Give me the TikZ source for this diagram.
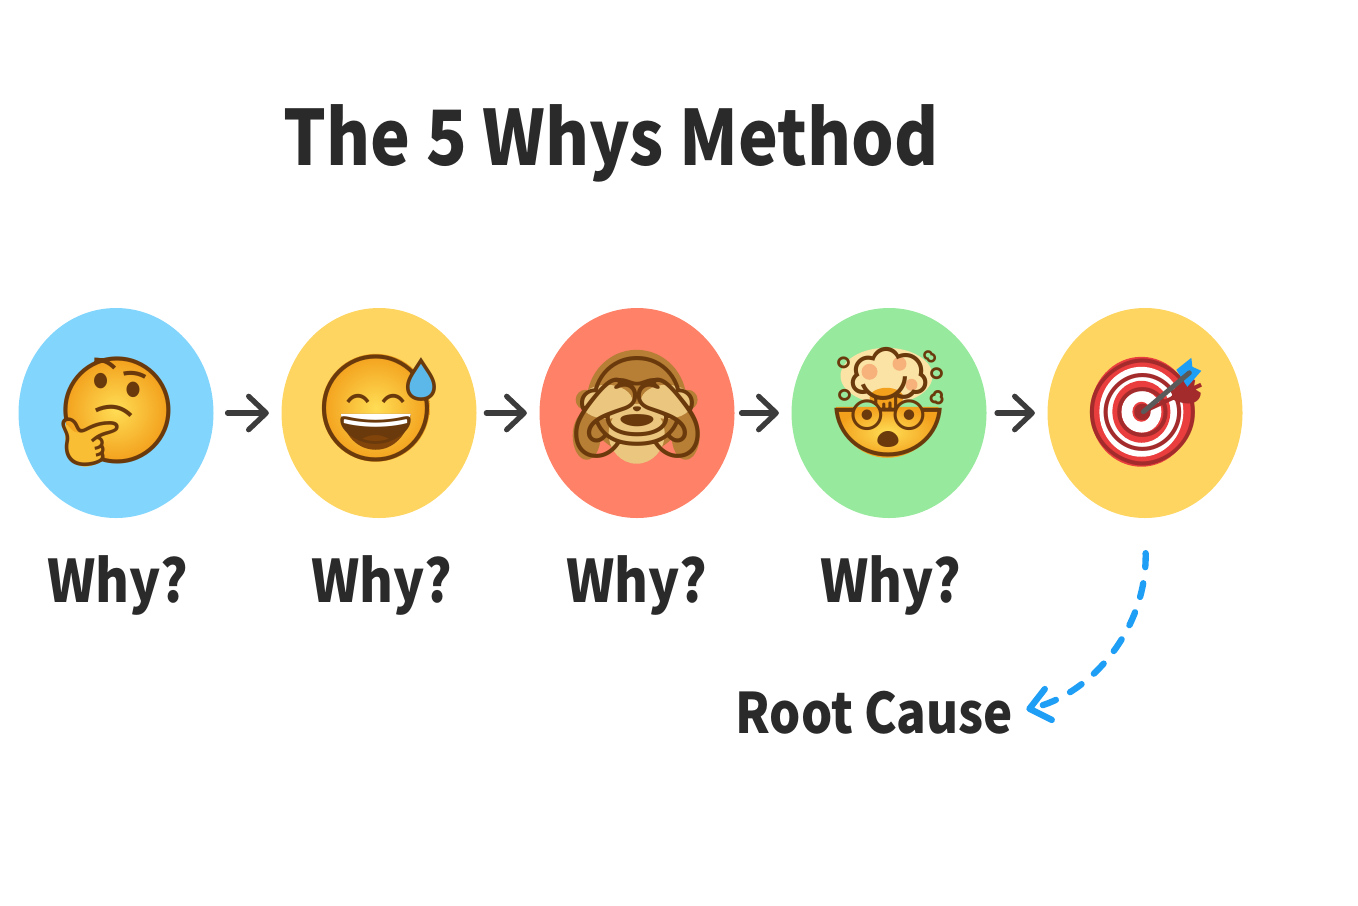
\documentclass[tikz,border=0pt]{standalone}
\usepackage{fontspec}
\setmainfont{Noto Sans CJK SC}[FakeStretch=0.88]
\newfontfamily\emojifont{Noto Emoji}
\usetikzlibrary{positioning,arrows.meta,shapes.geometric,calc}
\definecolor{skyfill}{HTML}{82D5FD}
\definecolor{sunfill}{HTML}{FDD560}
\definecolor{coralfill}{HTML}{FE8168}
\definecolor{mintfill}{HTML}{97E99D}
\definecolor{inkdark}{HTML}{2A2A2A}
\definecolor{arrowdark}{HTML}{3C3C3C}
\definecolor{dashblue}{HTML}{1E9EF5}
\definecolor{faceyellow}{HTML}{F9BE33}
\definecolor{facelight}{HTML}{FFDD55}
\definecolor{faceedge}{HTML}{F3A01C}
\definecolor{facebrown}{HTML}{6B3A0C}
\definecolor{monkeybrown}{HTML}{B67F35}
\definecolor{monkeytan}{HTML}{EBC67F}
\definecolor{braincream}{HTML}{FBE3A6}
\definecolor{brainorange}{HTML}{F6B27A}
\definecolor{targetred}{HTML}{EA3E3E}
\definecolor{dropblue}{HTML}{5CB8E8}
\definecolor{dartgrey}{HTML}{5A5A5A}
\begin{document}
\begin{tikzpicture}[
    whycircle/.style={
        ellipse,
        minimum width=1.95cm,
        minimum height=2.1cm,
        inner sep=0pt,
        outer sep=0pt
    },
    whylabel/.style={anchor=base,text=inkdark,font=\fontsize{16.7}{20}\selectfont\bfseries},
    emojiglyph/.style={inner sep=0pt,font=\emojifont\fontsize{30}{30}\selectfont,text=facebrown},
    steparrow/.style={
        draw=arrowdark,
        line width=1.5pt,
        line cap=round,
        shorten <=4pt,
        shorten >=3.6pt,
        -{Straight Barb[length=5pt,width=9.5pt,line width=1.5pt,round]}
    },
    rootarrow/.style={
        draw=dashblue,
        line width=1.8pt,
        line cap=round,
        dash pattern=on 4pt off 4.6pt,
        shorten <=10pt,
        shorten >=3.6pt,
        -{Straight Barb[length=5.5pt,width=9pt,line width=1.8pt,round]}
    },
    pixels/.style={shift={(0,9.05)},x=0.01cm,y=-0.01cm}
]
\useasboundingbox (0,0) rectangle (13.58,9.05);

% The title
\node[anchor=base,text=inkdark,font=\fontsize{21.7}{26}\selectfont\bfseries] (title) at (6.11,7.40) {The 5 Whys Method};

% Coloured circles
\node[whycircle,fill=skyfill]   (c1) at (1.16,4.92) {};
\node[whycircle,fill=sunfill]   (c2) at (3.79,4.92) {};
\node[whycircle,fill=coralfill] (c3) at (6.37,4.92) {};
\node[whycircle,fill=mintfill]  (c4) at (8.89,4.92) {};
\node[whycircle,fill=sunfill]   (c5) at (11.45,4.92) {};

% Colour under the emoji
\begin{scope}[pixels]
% thinking face
\shade[inner color=facelight,outer color=faceedge] (116,410) circle[radius=52];
\fill[faceyellow] plot[smooth cycle] coordinates {(66,425) (78,433) (110,423) (118,430) (102,446) (104,460) (85,467) (70,460) (66,444)};
% sweat face
\shade[inner color=facelight,outer color=faceedge] (376,408) circle[radius=54];
\fill[facebrown!85!orange] (341,414) -- (411,414) .. controls (408,436) and (393,450) .. (376,450) .. controls (358,450) and (344,436) .. (341,414) -- cycle;
\fill[white] (341,414) -- (411,414) -- (408,426) .. controls (388,431) and (364,431) .. (344,426) -- cycle;
\fill[dropblue] (421,358) .. controls (428,372) and (435,376) .. (435,386) .. controls (435,403) and (407,403) .. (407,386) .. controls (407,376) and (414,372) .. (421,358) -- cycle;
% monkey
\fill[monkeybrown] (637,402) ellipse[x radius=50,y radius=52];
\fill[monkeybrown] (586,400) circle[radius=10];
\fill[monkeybrown] (688,400) circle[radius=10];
\fill[monkeybrown] (587,436) ellipse[x radius=14,y radius=24];
\fill[monkeybrown] (686,436) ellipse[x radius=14,y radius=24];
\fill[monkeytan] (637,434) ellipse[x radius=28,y radius=30];
\fill[monkeytan] (607,402) ellipse[x radius=26,y radius=17];
\fill[monkeytan] (667,402) ellipse[x radius=26,y radius=17];
% exploding head
\shade[inner color=facelight,outer color=faceedge] (837,407) -- (939,407) arc[start angle=0,end angle=180,radius=51] -- cycle;
\fill[braincream] (887,376) ellipse[x radius=46,y radius=28];
\fill[brainorange] (870,372) circle[radius=8];
\fill[brainorange] (900,364) circle[radius=7];
\fill[brainorange] (912,385) circle[radius=6];
\fill[faceedge] (887,398) ellipse[x radius=17,y radius=10];
% target
\fill[targetred] (1142,412) ellipse[x radius=51,y radius=55];
\fill[white] (1142,412) ellipse[x radius=42,y radius=45];
\fill[targetred] (1142,412) ellipse[x radius=29,y radius=31];
\fill[white] (1142,412) ellipse[x radius=20,y radius=21];
\fill[targetred] (1142,412) ellipse[x radius=9,y radius=10];
\end{scope}

% Emoji
\node[emojiglyph] (e1) at (1.16,4.93) {\symbol{"1F914}};
\node[emojiglyph] (e2) at (3.79,4.97) {\symbol{"1F605}};
\node[emojiglyph] (e3) at (6.37,4.98) {\symbol{"1F648}};
\node[emojiglyph] (e4) at (8.89,5.03) {\symbol{"1F92F}};
\node[emojiglyph,text=targetred!70!black] (e5) at (11.46,4.93) {\symbol{"1F3AF}};

% Dart on top of the target
\begin{scope}[pixels]
\fill[dashblue] (1177,370) -- (1192,358) -- (1193,367) -- (1202,371) -- (1188,387) -- cycle;
\draw[dartgrey,line width=1.4pt,line cap=round] (1144,412) -- (1190,373);
\end{scope}

% Arrows between circles
\draw[steparrow] (c1) -- (c2);
\draw[steparrow,shorten <=2.8pt] (c2) -- (c3);
\draw[steparrow,shorten <=2pt] (c3) -- (c4);
\draw[steparrow,shorten <=3pt] (c4) -- (c5);

% Labels under the circles
\node[whylabel] (w1) at (1.18,3.03) {Why?};
\node[whylabel] (w2) at (3.82,3.03) {Why?};
\node[whylabel] (w3) at (6.37,3.03) {Why?};
\node[whylabel] (w4) at (8.91,3.03) {Why?};

% Root cause
\node[whylabel,inner sep=0pt,font=\fontsize{15.9}{20}\selectfont\bfseries] (root) at (8.745,1.72) {Root Cause};
\draw[rootarrow] (c5.south) .. controls (11.47,2.75) and (10.9,2.1) .. (root.east);
\end{tikzpicture}
\end{document}
